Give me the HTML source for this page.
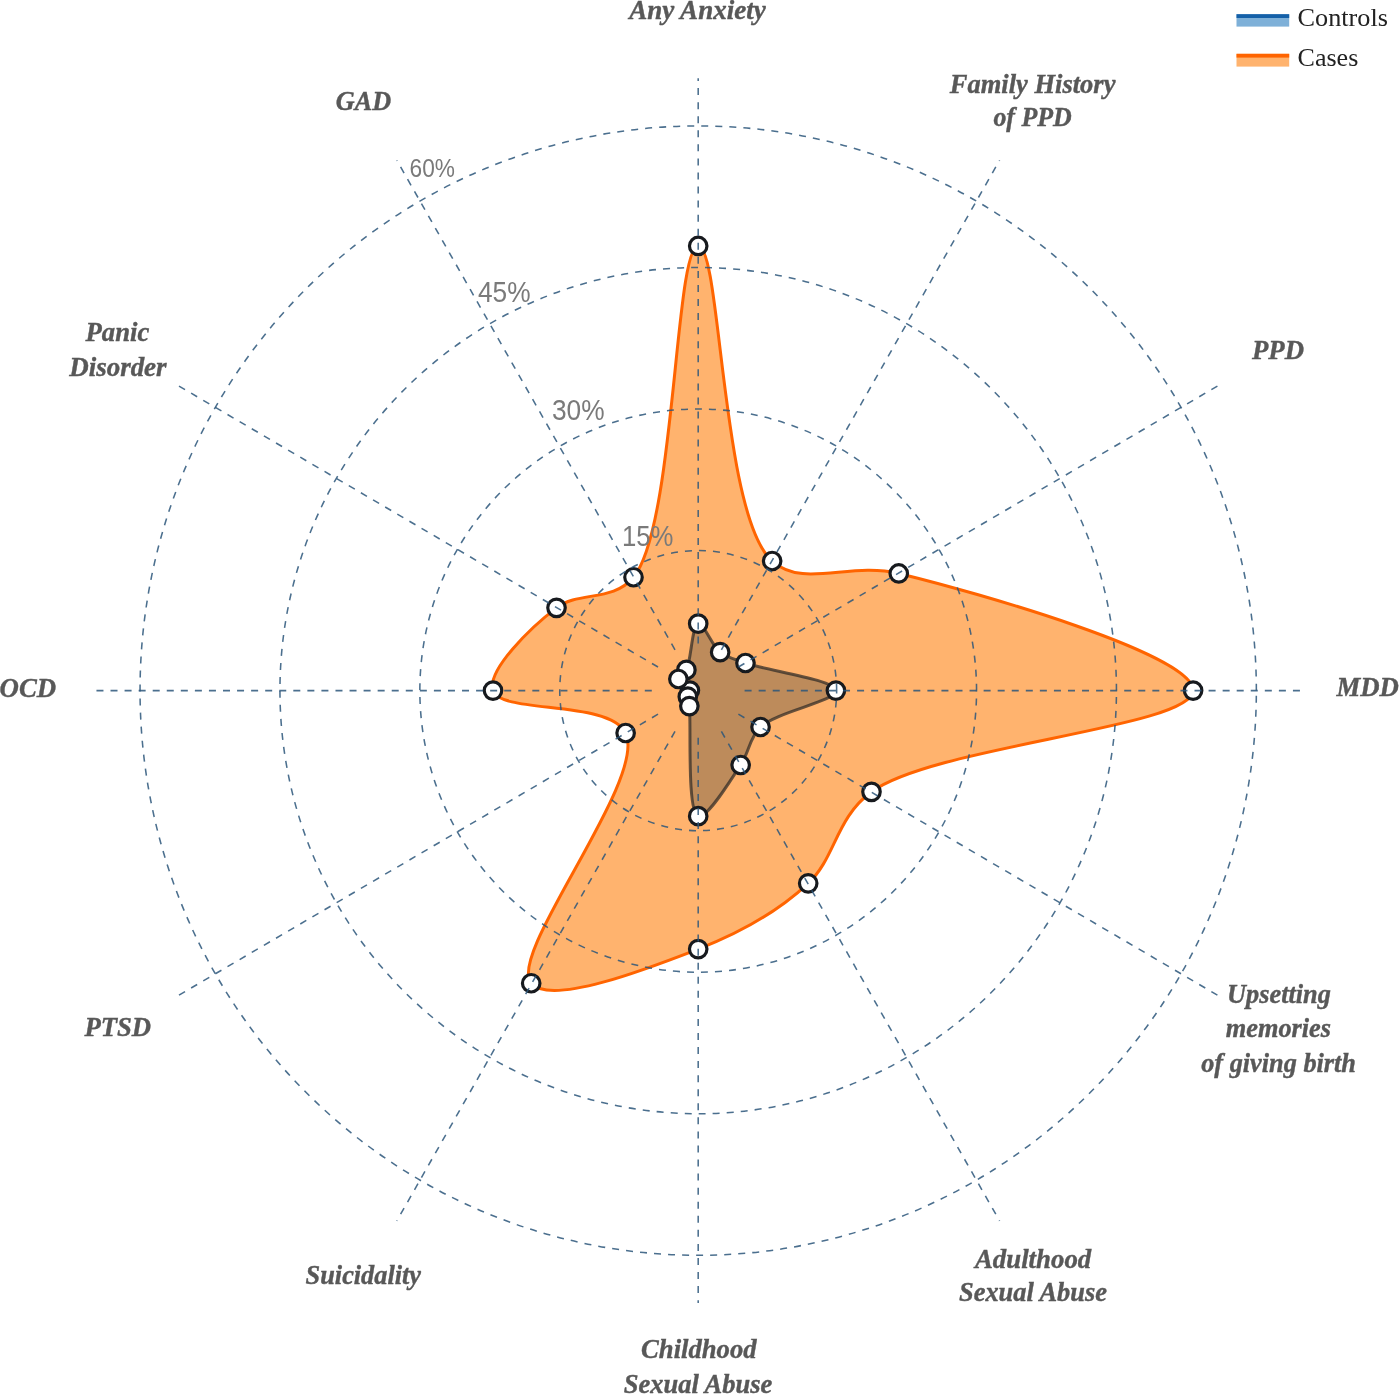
<!DOCTYPE html>
<html lang="en"><head><meta charset="utf-8"><title>Radar chart: Cases vs Controls</title>
<style>
html,body{margin:0;padding:0;background:#fff;}
body{width:1400px;height:1395px;overflow:hidden;}
svg{display:block;filter:blur(0.55px);}
.ax{font-family:"Liberation Serif","Times New Roman",serif;font-weight:bold;font-style:italic;font-size:26.8px;fill:#585858;stroke:#585858;stroke-width:0.4px;text-anchor:middle;}
.tk{font-family:"Liberation Sans",Arial,sans-serif;fill:#7a7a7a;}
.lg{font-family:"Liberation Serif","Times New Roman",serif;font-size:26px;fill:#222;}
</style></head><body>
<svg width="1400" height="1395" viewBox="0 0 1400 1395">
<rect width="1400" height="1395" fill="#fff"/>
<g>
<path d="M698.20,245.96C721.10,245.53 721.28,516.48 772.15,561.02C804.05,588.94 848.82,561.31 898.77,573.45C977.59,592.59 1194.43,654.67 1193.10,690.60C1191.73,727.67 933.93,745.78 871.49,791.82C835.62,818.27 835.60,857.71 808.20,883.35C778.79,910.87 740.25,932.77 698.20,949.09C649.70,967.91 551.00,1006.47 531.20,983.24C506.40,954.14 648.03,779.33 625.63,732.99C609.46,699.56 500.40,714.24 493.00,690.60C486.59,670.14 531.31,626.90 556.52,607.84C578.98,590.86 612.80,602.17 633.50,577.23C675.28,526.87 674.81,246.40 698.20,245.96Z" fill="#ffb36e" stroke="none"/>
<path d="M698.20,623.63C703.70,622.49 711.59,645.50 720.15,652.14C727.64,657.95 734.30,658.89 745.48,662.98C766.21,670.56 835.04,679.49 835.90,690.60C836.71,701.05 776.43,711.65 760.55,727.02C749.19,738.02 749.39,751.87 740.65,764.99C729.77,781.32 707.17,818.99 698.20,816.15C686.64,812.50 691.37,722.71 689.35,706.11C688.76,701.22 687.57,699.44 687.81,696.67C688.00,694.40 690.40,692.78 689.90,690.60C689.10,687.13 678.48,682.69 678.37,679.02C678.27,675.85 683.96,674.54 686.40,669.92C691.25,660.75 691.86,624.93 698.20,623.63Z" fill="#232e32" fill-opacity="0.30" stroke="none"/>
<path d="M698.20,245.96C721.10,245.53 721.28,516.48 772.15,561.02C804.05,588.94 848.82,561.31 898.77,573.45C977.59,592.59 1194.43,654.67 1193.10,690.60C1191.73,727.67 933.93,745.78 871.49,791.82C835.62,818.27 835.60,857.71 808.20,883.35C778.79,910.87 740.25,932.77 698.20,949.09C649.70,967.91 551.00,1006.47 531.20,983.24C506.40,954.14 648.03,779.33 625.63,732.99C609.46,699.56 500.40,714.24 493.00,690.60C486.59,670.14 531.31,626.90 556.52,607.84C578.98,590.86 612.80,602.17 633.50,577.23C675.28,526.87 674.81,246.40 698.20,245.96Z" fill="none" stroke="#ff6400" stroke-width="3.0" stroke-linejoin="round"/>
<path d="M698.20,623.63C703.70,622.49 711.59,645.50 720.15,652.14C727.64,657.95 734.30,658.89 745.48,662.98C766.21,670.56 835.04,679.49 835.90,690.60C836.71,701.05 776.43,711.65 760.55,727.02C749.19,738.02 749.39,751.87 740.65,764.99C729.77,781.32 707.17,818.99 698.20,816.15C686.64,812.50 691.37,722.71 689.35,706.11C688.76,701.22 687.57,699.44 687.81,696.67C688.00,694.40 690.40,692.78 689.90,690.60C689.10,687.13 678.48,682.69 678.37,679.02C678.27,675.85 683.96,674.54 686.40,669.92C691.25,660.75 691.86,624.93 698.20,623.63Z" fill="none" stroke="#2e2a26" stroke-opacity="0.72" stroke-width="3.0" stroke-linejoin="round"/>
<g fill="#fff" stroke="#171a1e" stroke-width="3.2">
<circle cx="698.20" cy="245.96" r="8.75"/>
<circle cx="772.15" cy="561.02" r="8.75"/>
<circle cx="898.77" cy="573.45" r="8.75"/>
<circle cx="1193.10" cy="690.60" r="8.75"/>
<circle cx="871.49" cy="791.82" r="8.75"/>
<circle cx="808.20" cy="883.35" r="8.75"/>
<circle cx="698.20" cy="949.09" r="8.75"/>
<circle cx="531.20" cy="983.24" r="8.75"/>
<circle cx="625.63" cy="732.99" r="8.75"/>
<circle cx="493.00" cy="690.60" r="8.75"/>
<circle cx="556.52" cy="607.84" r="8.75"/>
<circle cx="633.50" cy="577.23" r="8.75"/>
<circle cx="698.20" cy="623.63" r="8.75"/>
<circle cx="720.15" cy="652.14" r="8.75"/>
<circle cx="745.48" cy="662.98" r="8.75"/>
<circle cx="835.90" cy="690.60" r="8.75"/>
<circle cx="760.55" cy="727.02" r="8.75"/>
<circle cx="740.65" cy="764.99" r="8.75"/>
<circle cx="698.20" cy="816.15" r="8.75"/>
<circle cx="686.40" cy="669.92" r="8.75"/>
<circle cx="689.90" cy="690.60" r="8.75"/>
<circle cx="678.37" cy="679.02" r="8.75"/>
<circle cx="687.81" cy="696.67" r="8.75"/>
<circle cx="689.35" cy="706.11" r="8.75"/>
</g>
<g fill="none" stroke="#2b567a" stroke-opacity="0.85" stroke-width="1.55" stroke-dasharray="7 7.06">
<path d="M836.65,690.60A138.45,140.07 0 1 0 559.75,690.60A138.45,140.07 0 1 0 836.65,690.60"/>
<path d="M976.55,690.60A278.35,281.61 0 1 0 419.85,690.60A278.35,281.61 0 1 0 976.55,690.60"/>
<path d="M1116.45,690.60A418.25,423.14 0 1 0 279.95,690.60A418.25,423.14 0 1 0 1116.45,690.60"/>
<path d="M1256.35,690.60A558.15,564.68 0 1 0 140.05,690.60A558.15,564.68 0 1 0 1256.35,690.60"/>
<path d="M698.20,643.46L698.20,78.22"/>
<path d="M721.40,649.78L999.60,160.26"/>
<path d="M738.38,667.03L1220.24,384.41"/>
<path d="M744.60,690.60L1301.00,690.60"/>
<path d="M738.38,714.17L1220.24,996.79"/>
<path d="M721.40,731.42L999.60,1220.94"/>
<path d="M698.20,737.74L698.20,1302.98"/>
<path d="M675.00,731.42L396.80,1220.94"/>
<path d="M658.02,714.17L176.16,996.79"/>
<path d="M651.80,690.60L95.40,690.60"/>
<path d="M658.02,667.03L176.16,384.41"/>
<path d="M675.00,649.78L396.80,160.26"/>
</g>
</g>
<text class="tk" x="409.6" y="176.6" font-size="25.8" textLength="45.4" lengthAdjust="spacingAndGlyphs">60%</text>
<text class="tk" x="478.0" y="301.5" font-size="28.6" textLength="52.6" lengthAdjust="spacingAndGlyphs">45%</text>
<text class="tk" x="552.0" y="420.0" font-size="29.0" textLength="52.6" lengthAdjust="spacingAndGlyphs">30%</text>
<text class="tk" x="622.0" y="546.3" font-size="29.0" textLength="51.5" lengthAdjust="spacingAndGlyphs">15%</text>
<text class="ax" x="697.5" y="18.6" textLength="136.4" lengthAdjust="spacingAndGlyphs">Any Anxiety</text>
<text class="ax" x="1032.6" y="93.0" textLength="165.6" lengthAdjust="spacingAndGlyphs">Family History</text>
<text class="ax" x="1032.6" y="126.3" textLength="78.4" lengthAdjust="spacingAndGlyphs">of PPD</text>
<text class="ax" x="1278.0" y="358.5" textLength="52.0" lengthAdjust="spacingAndGlyphs">PPD</text>
<text class="ax" x="1367.7" y="696.4" textLength="62.5" lengthAdjust="spacingAndGlyphs">MDD</text>
<text class="ax" x="1279.0" y="1002.9" textLength="103.8" lengthAdjust="spacingAndGlyphs">Upsetting</text>
<text class="ax" x="1278.4" y="1036.6" textLength="105.3" lengthAdjust="spacingAndGlyphs">memories</text>
<text class="ax" x="1278.6" y="1071.5" textLength="154.8" lengthAdjust="spacingAndGlyphs">of giving birth</text>
<text class="ax" x="1033.1" y="1267.5" textLength="116.3" lengthAdjust="spacingAndGlyphs">Adulthood</text>
<text class="ax" x="1033.0" y="1301.4" textLength="148.0" lengthAdjust="spacingAndGlyphs">Sexual Abuse</text>
<text class="ax" x="698.8" y="1357.7" textLength="115.5" lengthAdjust="spacingAndGlyphs">Childhood</text>
<text class="ax" x="698.0" y="1392.8" textLength="148.5" lengthAdjust="spacingAndGlyphs">Sexual Abuse</text>
<text class="ax" x="363.3" y="1284.2" textLength="115.5" lengthAdjust="spacingAndGlyphs">Suicidality</text>
<text class="ax" x="117.8" y="1035.8" textLength="66.7" lengthAdjust="spacingAndGlyphs">PTSD</text>
<text class="ax" x="27.9" y="696.6" textLength="56.6" lengthAdjust="spacingAndGlyphs">OCD</text>
<text class="ax" x="117.4" y="341.1" textLength="63.7" lengthAdjust="spacingAndGlyphs">Panic</text>
<text class="ax" x="117.9" y="376.1" textLength="97.4" lengthAdjust="spacingAndGlyphs">Disorder</text>
<text class="ax" x="363.5" y="110.3" textLength="55.3" lengthAdjust="spacingAndGlyphs">GAD</text>
<rect x="1236.5" y="14.2" width="52.7" height="12.4" fill="#7eb0d8"/>
<rect x="1236.5" y="14.2" width="52.7" height="3.8" fill="#1560a8"/>
<text class="lg" x="1297.6" y="25.8" textLength="90.4" lengthAdjust="spacingAndGlyphs">Controls</text>
<rect x="1236.5" y="53.8" width="52.7" height="12.8" fill="#ffb36e"/>
<rect x="1236.5" y="53.8" width="52.7" height="3.8" fill="#ff6400"/>
<text class="lg" x="1297.6" y="65.8">Cases</text>
</svg></body></html>
